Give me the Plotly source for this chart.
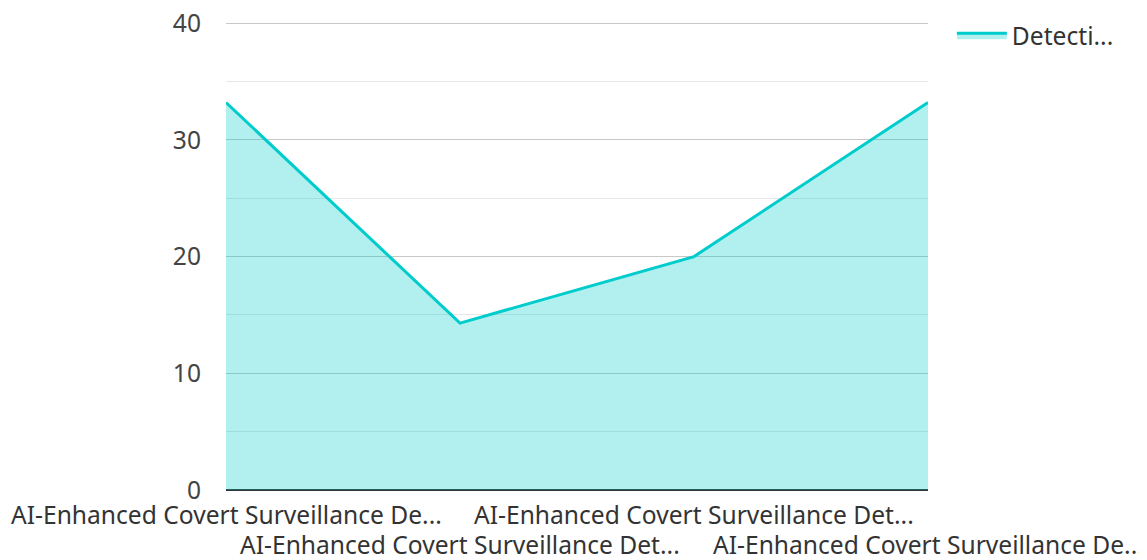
import plotly.graph_objects as go

positions = [0, 1, 2, 3]
tick_labels = [
    "AI-Enhanced Covert Surveillance De...",
    "AI-Enhanced Covert Surveillance Det...",
    "AI-Enhanced Covert Surveillance Det...",
    "AI-Enhanced Covert Surveillance De...",
]
label_rows = [0, 1, 0, 1]
values = [33.2, 14.3, 20.0, 33.2]
series_name = "Detecti..."

FONT = "Noto Sans"
FS = 24.6

fig = go.Figure()
fig.add_trace(go.Scatter(
    x=positions, y=values, name=series_name,
    mode="lines", fill="tozeroy",
    line=dict(color="#00cccc", width=3),
    fillcolor="rgba(0,204,204,0.3)",
))

for xp, lab, row in zip(positions, tick_labels, label_rows):
    fig.add_annotation(
        x=xp, y=0, xref="x", yref="paper", text=lab, showarrow=False,
        xanchor="center", yanchor="top", yshift=-6 - 30 * row,
        font=dict(family=FONT, size=FS, color="#333333"),
    )

fig.update_layout(
    width=1147, height=560,
    margin=dict(l=218, r=227, t=13.8, b=78, autoexpand=False),
    paper_bgcolor="white", plot_bgcolor="white",
    font=dict(family=FONT, size=FS, color="#333333"),
    showlegend=True,
    legend=dict(x=1.034, y=1.02, xanchor="left", yanchor="top", itemwidth=50,
                font=dict(size=FS, color="#333333")),
    xaxis=dict(
        range=[0, 3], showticklabels=False,
        showgrid=False, zeroline=False, showline=False, ticks="",
        automargin=False,
    ),
    yaxis=dict(
        range=[0, 40.1], tickmode="array", tickvals=[0, 10, 20, 30, 40],
        showgrid=True, gridcolor="#c8c8c8", gridwidth=1,
        zeroline=True, zerolinecolor="#333333", zerolinewidth=2,
        showline=False, ticks="", ticklabelstandoff=24, automargin=False,
        ticklabeloverflow="allow",
        tickfont=dict(size=FS, color="#444444"),
        minor=dict(tickmode="array", tickvals=[5, 15, 25, 35], showgrid=True,
                   gridcolor="#e6e6e6", gridwidth=1),
    ),
)

fig.write_html("out.html")
